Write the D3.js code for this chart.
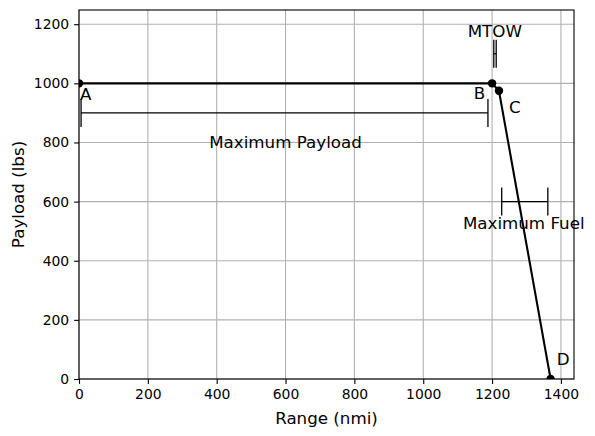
<!DOCTYPE html>
<html>
<head>
<meta charset="utf-8">
<script src="https://cdn.jsdelivr.net/npm/d3@7"></script>
<style>
  body { margin: 0; background: #fff; }
  svg { font-family: "DejaVu Sans", sans-serif; }
</style>
</head>
<body>
<div id="chart"></div>
<script>
// payload-range diagram data
const rangeNmi = [0, 1200, 1220, 1370];
const payloadLbs = [1000, 1000, 975, 0];
const pointNames = ['A', 'B', 'C', 'D'];
const labelX = [3, 1147, 1249, 1388];
const labelY = [963, 966, 919, 68];
const xTicks = [0, 200, 400, 600, 800, 1000, 1200, 1400];
const yTicks = [0, 200, 400, 600, 800, 1000, 1200];

// span brackets: start, end, level, text, text position
const bracketNames = ['Maximum Payload', 'Maximum Fuel', 'MTOW'];
const bracketStart = [6, 1228, 1205];
const bracketEnd = [1188, 1362, 1212];
const bracketLevel = [900, 600, 1100];
const bracketTextX = [600, 1292, 1208];
const bracketTextY = [800, 527, 1176];

const svgWidth = 595, svgHeight = 436;
const margin = {top: 10, right: 21, bottom: 57, left: 79};
const width = svgWidth - margin.left - margin.right;
const height = svgHeight - margin.top - margin.bottom;

const svg = d3.select('#chart').append('svg')
    .attr('width', svgWidth)
    .attr('height', svgHeight);
const g = svg.append('g')
    .attr('transform', `translate(${margin.left},${margin.top})`);

const x = d3.scaleLinear().domain([0, 1438]).range([0, width]);
const y = d3.scaleLinear().domain([0, 1248]).range([height, 0]);

// grid
g.append('g').selectAll('line').data(xTicks).join('line')
    .attr('x1', d => x(d)).attr('x2', d => x(d))
    .attr('y1', 0).attr('y2', height)
    .attr('stroke', '#b0b0b0').attr('stroke-width', 1.1);
g.append('g').selectAll('line').data(yTicks).join('line')
    .attr('x1', 0).attr('x2', width)
    .attr('y1', d => y(d)).attr('y2', d => y(d))
    .attr('stroke', '#b0b0b0').attr('stroke-width', 1.1);

// axes
const xAxis = g.append('g')
    .attr('transform', `translate(0,${height})`)
    .call(d3.axisBottom(x).tickValues(xTicks).tickSize(4.9).tickPadding(4.9).tickFormat(d3.format('d')));
const yAxis = g.append('g')
    .call(d3.axisLeft(y).tickValues(yTicks).tickSize(4.9).tickPadding(4.9).tickFormat(d3.format('d')));
[xAxis, yAxis].forEach(a => {
    a.select('.domain').remove();
    a.selectAll('line').attr('stroke', '#000').attr('stroke-width', 1.1);
    a.selectAll('text').attr('font-size', 13.9).attr('fill', '#000')
        .attr('font-family', '"DejaVu Sans", sans-serif');
});

// main line
const line = d3.line().x((d, i) => x(rangeNmi[i])).y(d => y(d));
g.append('path')
    .datum(payloadLbs)
    .attr('d', line)
    .attr('fill', 'none')
    .attr('stroke', '#000')
    .attr('stroke-width', 2.1);

const clip = g.append('clipPath').attr('id', 'plotclip')
    .append('rect').attr('width', width).attr('height', height);

g.append('g').attr('clip-path', 'url(#plotclip)')
    .selectAll('circle').data(payloadLbs).join('circle')
    .attr('cx', (d, i) => x(rangeNmi[i]))
    .attr('cy', d => y(d))
    .attr('r', 4.2)
    .attr('fill', '#000');

// point labels
g.append('g').selectAll('text').data(pointNames).join('text')
    .attr('x', (d, i) => x(labelX[i]))
    .attr('y', (d, i) => y(labelY[i]))
    .attr('dominant-baseline', 'central')
    .attr('font-size', 16.7)
    .text(d => d);

// brackets
bracketNames.forEach((name, i) => {
    const b = g.append('g').attr('stroke', '#000').attr('stroke-width', 1.3);
    const yy = y(bracketLevel[i]);
    b.append('line')
        .attr('x1', x(bracketStart[i])).attr('x2', x(bracketEnd[i]))
        .attr('y1', yy).attr('y2', yy);
    [bracketStart[i], bracketEnd[i]].forEach(v => {
        b.append('line')
            .attr('x1', x(v)).attr('x2', x(v))
            .attr('y1', yy - 14).attr('y2', yy + 14);
    });
    g.append('text')
        .attr('x', x(bracketTextX[i]))
        .attr('y', y(bracketTextY[i]))
        .attr('text-anchor', 'middle')
        .attr('dominant-baseline', 'central')
        .attr('font-size', 16.7)
        .text(name);
});

// frame
g.append('rect')
    .attr('width', width).attr('height', height)
    .attr('fill', 'none').attr('stroke', '#000').attr('stroke-width', 1.1);

// axis titles
svg.append('text')
    .attr('x', margin.left + width / 2)
    .attr('y', 418)
    .attr('text-anchor', 'middle')
    .attr('dominant-baseline', 'central')
    .attr('font-size', 16.7)
    .text('Range (nmi)');
svg.append('text')
    .attr('transform', `translate(18,${margin.top + height / 2}) rotate(-90)`)
    .attr('text-anchor', 'middle')
    .attr('dominant-baseline', 'central')
    .attr('font-size', 16.7)
    .text('Payload (lbs)');
</script>
</body>
</html>
